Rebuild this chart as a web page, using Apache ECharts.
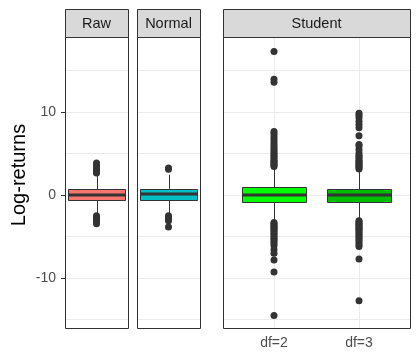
<!DOCTYPE html>
<html><head><meta charset="utf-8">
<script src="https://cdn.jsdelivr.net/npm/echarts@6/dist/echarts.min.js"></script>
<style>html,body{margin:0;padding:0;background:#fff}#c{width:420px;height:360px}</style>
</head><body><div id="c"></div>
<script>
// ---- data ----
const panelNames = ['Raw', 'Normal', 'Student'];
const studentCats = ['df=2', 'df=3'];
const yTickValues = [-10, 0, 10];
const yGridValues = [-15, -10, -5, 0, 5, 10, 15];
// box stats: [lower whisker, Q1, median, Q3, upper whisker]
const rawBox = [-2.4, -0.65, 0.04, 0.72, 2.45];
const normalBox = [-2.2, -0.65, 0.1, 0.76, 2.45];
const df2Box = [-3.0, -0.84, 0.0, 0.92, 3.3];
const df3Box = [-2.9, -0.84, 0.0, 0.67, 3.0];
// outliers
const rawOut = [2.65, 2.85, 3.05, 3.3, 3.55, 3.86, -2.5, -2.7, -2.85, -3.0, -3.2, -3.46];
const normalOut = [3.1, 3.25, -2.5, -2.7, -2.9, -3.1, -3.86];
const df2Out = [3.45, 3.6, 3.75, 3.9, 4.05, 4.2, 4.4, 4.6, 4.8, 5.0, 5.2, 5.45, 5.7, 5.95, 6.2, 6.5, 6.8, 7.1, 7.4, 7.66, 13.6, 13.95, 17.3,
  -3.3, -3.45, -3.6, -3.75, -3.9, -4.05, -4.2, -4.4, -4.6, -4.8, -5.0, -5.2, -5.4, -5.6, -5.85, -6.1, -6.6, -7.0, -7.83, -9.28, -14.5];
const df3Out = [3.15, 3.3, 3.45, 3.6, 3.75, 3.9, 4.05, 4.2, 4.4, 4.6, 4.8, 5.05, 5.5, 5.9, 6.1, 7.15, 8.1, 8.5, 8.9, 9.3, 9.6, 9.85,
  -3.1, -3.25, -3.4, -3.55, -3.7, -3.85, -4.0, -4.15, -4.3, -4.5, -4.7, -4.9, -5.1, -5.3, -5.5, -5.75, -6.0, -6.2, -7.7, -12.75];

// ---- layout / style ----
const FONT = 'Liberation Sans, Arial, sans-serif';
const TOP = 37, HEIGHT = 291, STRIP_TOP = 9;
const layout = [
  {left: 65, width: 63, xMin: 0.4, xMax: 1.6, boxPx: 57},
  {left: 137, width: 63, xMin: 0.4, xMax: 1.6, boxPx: 57},
  {left: 223, width: 187, xMin: 0.4, xMax: 2.6, boxPx: 64}
];
const Y_MIN = -16.02, Y_MAX = 19.04;

const panelBoxes = [
  [{x: 1, stats: rawBox, color: '#F8766D'}],
  [{x: 1, stats: normalBox, color: '#00BFC4'}],
  [{x: 1, stats: df2Box, color: '#00FF00'}, {x: 2, stats: df3Box, color: '#00BE00'}]
];
const panelOutliers = [
  [{x: 1, vals: rawOut}],
  [{x: 1, vals: normalOut}],
  [{x: 1, vals: df2Out}, {x: 2, vals: df3Out}]
];

function renderBox(panelIdx, boxPx) {
  return function (params, api) {
    const x = api.value(0);
    const pMin = api.coord([x, api.value(1)]);
    const pQ1 = api.coord([x, api.value(2)]);
    const pMed = api.coord([x, api.value(3)]);
    const pQ3 = api.coord([x, api.value(4)]);
    const pMax = api.coord([x, api.value(5)]);
    const color = panelBoxes[panelIdx][params.dataIndex].color;
    const cx = Math.round(pMed[0]) + 0.5;
    const x0 = Math.round(pMed[0] - boxPx / 2) + 0.5;
    const stroke = '#333333';
    return {
      type: 'group',
      children: [
        {type: 'line', shape: {x1: cx, y1: pQ3[1], x2: cx, y2: pMax[1]}, style: {stroke, lineWidth: 1}},
        {type: 'line', shape: {x1: cx, y1: pQ1[1], x2: cx, y2: pMin[1]}, style: {stroke, lineWidth: 1}},
        {type: 'rect', shape: {x: x0, y: Math.round(pQ3[1]) + 0.5, width: boxPx, height: Math.round(pQ1[1]) - Math.round(pQ3[1])},
          style: {fill: color, stroke, lineWidth: 1}},
        {type: 'line', shape: {x1: x0, y1: Math.round(pMed[1]), x2: x0 + boxPx, y2: Math.round(pMed[1])},
          style: {stroke, lineWidth: 3.2}}
      ]
    };
  };
}

const grids = [], xAxes = [], yAxes = [], series = [], graphics = [];
layout.forEach((L, i) => {
  grids.push({left: L.left, top: TOP, width: L.width, height: HEIGHT, show: false, containLabel: false});
  const isStudent = i === 2;
  xAxes.push({
    type: 'value', gridIndex: i, min: L.xMin, max: L.xMax,
    axisLine: {show: false},
    axisTick: isStudent ? {show: true, customValues: [1, 2], length: 4, lineStyle: {color: '#333333'}} : {show: false},
    axisLabel: isStudent ? {show: true, customValues: [1, 2], margin: 8,
      formatter: v => studentCats[Math.round(v) - 1], color: '#4d4d4d', fontSize: 14, fontFamily: FONT} : {show: false},
    splitLine: {show: false}
  });
  yAxes.push({
    type: 'value', gridIndex: i, min: Y_MIN, max: Y_MAX,
    axisLine: {show: false},
    axisTick: i === 0 ? {show: true, customValues: yTickValues, length: 4, lineStyle: {color: '#333333'}} : {show: false},
    axisLabel: i === 0 ? {show: true, customValues: yTickValues, margin: 9, color: '#4d4d4d', fontSize: 14, fontFamily: FONT} : {show: false},
    splitLine: {show: false}
  });
  // grid lines
  const mlData = yGridValues.map(v => ({yAxis: v}));
  if (isStudent) { mlData.push({xAxis: 1}, {xAxis: 2}); }
  series.push({
    type: 'line', xAxisIndex: i, yAxisIndex: i, data: [], z: 0, silent: true,
    markLine: {silent: true, z: 0, symbol: ['none', 'none'], label: {show: false},
      lineStyle: {color: '#ebebeb', width: 1, type: 'solid'}, emphasis: {disabled: true}, animation: false, data: mlData}
  });
  series.push({
    type: 'custom', xAxisIndex: i, yAxisIndex: i, z: 2, silent: true, clip: false,
    renderItem: renderBox(i, L.boxPx),
    encode: {x: 0, y: [1, 2, 3, 4, 5]},
    data: panelBoxes[i].map(b => [b.x].concat(b.stats))
  });
  const pts = [];
  panelOutliers[i].forEach(o => o.vals.forEach(v => pts.push([o.x, v])));
  series.push({
    type: 'scatter', xAxisIndex: i, yAxisIndex: i, z: 3, silent: true,
    symbol: 'circle', symbolSize: 7, itemStyle: {color: '#333333', opacity: 1}, data: pts
  });
  // panel border
  graphics.push({type: 'rect', shape: {x: L.left + 0.5, y: TOP + 0.5, width: L.width, height: HEIGHT},
    style: {fill: null, stroke: '#333333', lineWidth: 1}, z: 10, silent: true});
  // strip
  graphics.push({type: 'rect', shape: {x: L.left + 0.5, y: STRIP_TOP + 0.5, width: L.width, height: TOP - STRIP_TOP},
    style: {fill: '#d9d9d9', stroke: '#333333', lineWidth: 1}, z: 10, silent: true});
  graphics.push({type: 'text', x: L.left + L.width / 2, y: (STRIP_TOP + TOP) / 2 + 1, z: 11,
    style: {text: panelNames[i], fill: '#1a1a1a', fontSize: 14.5, fontFamily: FONT, align: 'center', verticalAlign: 'middle'}});
});
graphics.push({type: 'text', x: 19, y: 175, rotation: Math.PI / 2, z: 11,
  style: {text: 'Log-returns', fill: '#000000', fontSize: 20, fontFamily: FONT, align: 'center', verticalAlign: 'middle'}});

const chart = echarts.init(document.getElementById('c'), null, {renderer: 'canvas'});
chart.setOption({
  animation: false,
  backgroundColor: '#ffffff',
  grid: grids, xAxis: xAxes, yAxis: yAxes, series: series, graphic: graphics
});
</script></body></html>
